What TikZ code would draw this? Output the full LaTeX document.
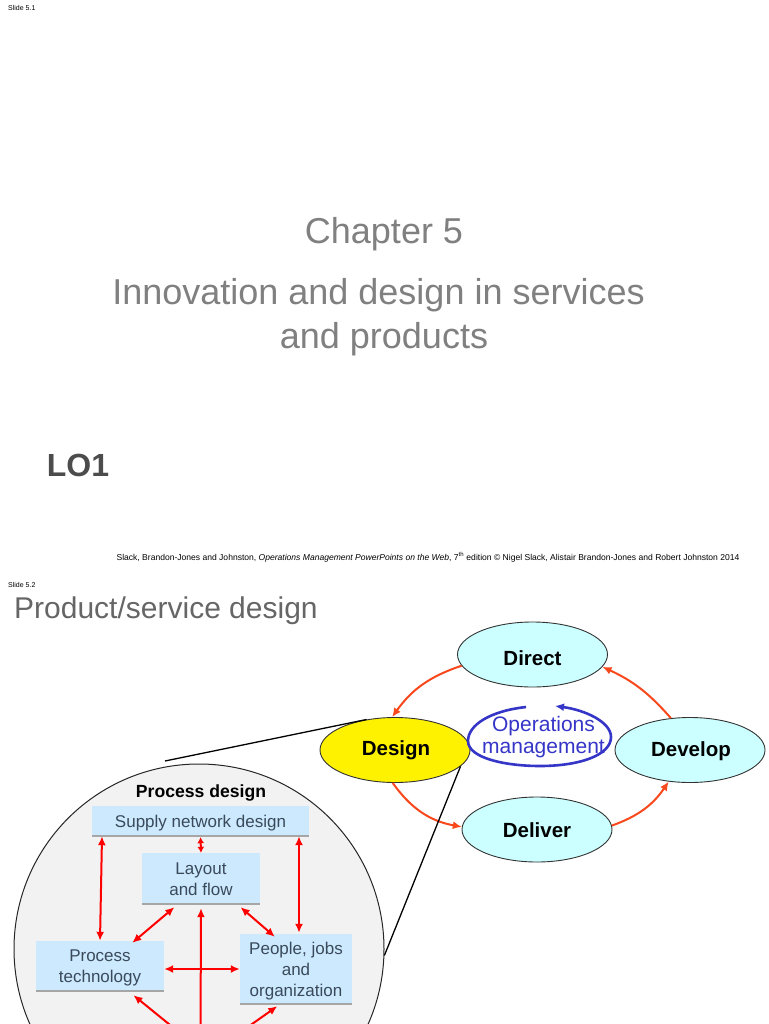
\documentclass[tikz,border=0pt]{standalone}
\usepackage{fontspec}
\setmainfont{Liberation Sans}
\usetikzlibrary{shapes.geometric, arrows.meta}
\definecolor{titlegrey}{HTML}{808080}
\definecolor{headgrey}{HTML}{666666}
\definecolor{cyanfill}{HTML}{CCFFFF}
\definecolor{boxfill}{HTML}{CCE9FD}
\definecolor{boxtext}{HTML}{3A4A5A}
\definecolor{loopblue}{HTML}{3535C8}
\definecolor{cycleorange}{HTML}{F9481C}
\tikzset{
  phase/.style={ellipse, draw=black!80, line width=0.9pt, fill=cyanfill, minimum width=150pt, minimum height=65pt, inner sep=0pt},
  phaselabel/.style={inner sep=0pt, font=\fontsize{20.5}{24}\selectfont\bfseries},
  areabox/.style={fill=boxfill, inner sep=0pt},
  boxlabel/.style={text=boxtext, inner sep=0pt, align=center, yshift=-2pt, font=\fontsize{17}{20.7}\selectfont},
  title/.style={text=titlegrey, inner sep=0pt, font=\fontsize{36}{44}\selectfont},
  tiny/.style={inner sep=0pt, anchor=west, font=\fontsize{7}{8}\selectfont},
  cycle/.style={-{Latex[length=9pt, width=8pt]}, draw=cycleorange, line width=2pt},
  link/.style={{Latex[length=9pt, width=8pt]}-{Latex[length=9pt, width=8pt]}, draw=red, line width=2pt},
  linkend/.style={-{Latex[length=9pt, width=8pt]}, draw=red, line width=2pt}
}
\begin{document}
\begin{tikzpicture}[x=1pt, y=-1pt]
  \clip (0, 0) rectangle (768, 1024);
  \fill[white] (0, 0) rectangle (768, 1024);
  % first slide
  \node[tiny] (slideA) at (8, 8) {Slide 5.1};
  \node[title] (chapter) at (384, 234) {Chapter 5};
  \node[title] (nameA) at (378.5, 295) {Innovation and design in services};
  \node[title] (nameB) at (384, 339) {and products};
  \node[inner sep=0pt, text=black!70, font=\fontsize{32}{38}\selectfont\bfseries] (lo) at (78, 465) {LO1};
  \node[inner sep=0pt, font=\fontsize{8.55}{10}\selectfont] (credit) at (428, 557) {Slack, Brandon-Jones and Johnston, \textit{Operations Management PowerPoints on the Web}, 7\textsuperscript{th} edition © Nigel Slack, Alistair Brandon-Jones and Robert Johnston 2014};
  % second slide
  \node[tiny] (slideB) at (8, 585) {Slide 5.2};
  \node[text=headgrey, inner sep=0pt, anchor=west, font=\fontsize{30}{36}\selectfont] (head) at (14, 611) {Product/service design};
  % the cycle
  \node[phase, label={[phaselabel, yshift=-3.5pt]center:Direct}] (direct) at (532.5, 654.5) {};
  \node[phase, fill=yellow, label={[phaselabel, xshift=1pt]center:Design}] (design) at (395, 750) {};
  \node[phase, label={[phaselabel, xshift=1pt, yshift=-1pt]center:Develop}] (develop) at (690, 750) {};
  \node[phase, label={[phaselabel, yshift=-1pt]center:Deliver}] (deliver) at (537, 829.5) {};
  \draw[cycle] (direct.189) to[bend right=18] (design.95);
  \draw[cycle] (design.266) to[bend right=22] (deliver.178);
  \draw[cycle] (deliver.3) to[bend right=18] (develop.236);
  \draw[cycle] (develop.121) to[bend right=12] (direct.-10);
  \draw[-{Latex[length=9pt, width=8pt]}, draw=loopblue, line width=2.6pt] (526, 707) .. controls (490, 711) and (468, 725) .. (468, 741) .. controls (468, 758) and (505, 766) .. (540, 766) .. controls (580, 766) and (611, 755) .. (611, 737) .. controls (611, 722) and (585, 710) .. (555, 706);
  \node[text=loopblue, inner sep=0pt, align=center, font=\fontsize{21}{22}\selectfont] (opman) at (543.5, 737) {Operations\\management};
  % the zoomed circle
  \node[circle, draw=black!85, fill=black!5, line width=1pt, minimum size=370pt, inner sep=0pt] (process) at (199, 949) {};
  \coordinate (topend) at (165, 761);
  \draw[line width=1.3pt] (topend) -- (design.133);
  \draw[line width=1.3pt] (process.-2) -- (design.-14);
  \node[inner sep=0pt, font=\fontsize{17.6}{21}\selectfont\bfseries] (processname) at (201, 793) {Process design};
  \node[areabox, minimum width=217pt, minimum height=30pt, label={[boxlabel]center:Supply network design}] (supply) at (200.5, 821) {};
  \node[areabox, minimum width=118pt, minimum height=51pt, label={[boxlabel, yshift=1.5pt]center:Layout\\and flow}] (layout) at (201, 878.5) {};
  \node[areabox, minimum width=128pt, minimum height=50pt, label={[boxlabel]center:Process\\technology}] (ptech) at (100, 966) {};
  \node[areabox, minimum width=112pt, minimum height=70pt, label={[boxlabel]center:People, jobs\\and\\organization}] (people) at (296, 969) {};
  \foreach \n in {supply, layout, ptech, people}
    \draw[black!35, line width=2pt] (\n.south west) -- (\n.south east);
  \coordinate (offleft) at (175, 1029);
  \coordinate (offmid) at (200.5, 1040);
  \coordinate (offright) at (245, 1029);
  \draw[link] ([xshift=2pt]supply.south -| ptech.north) -- (ptech.north);
  \draw[{Latex[length=6pt, width=7pt]}-{Latex[length=6pt, width=7pt]}, draw=red, line width=2pt] ([yshift=-1pt]supply.south) -- (layout.north);
  \draw[link] ([xshift=3pt]people.north |- supply.south) -- ([xshift=3pt, yshift=1pt]people.north);
  \draw[link] ([yshift=-3pt]layout.-136) -- ([yshift=-2pt]ptech.38);
  \draw[link] ([yshift=-3pt]layout.-33) -- ([yshift=-3pt]people.121);
  \draw[link, shorten <=4pt] (layout.south) -- (offmid);
  \draw[link] ([yshift=-3pt]ptech.east) -- ([yshift=0pt]people.west);
  \draw[linkend] (offleft) -- ([yshift=-4pt]ptech.-37);
  \draw[linkend] (offright) -- ([yshift=-2pt]people.-118);
\end{tikzpicture}
\end{document}
